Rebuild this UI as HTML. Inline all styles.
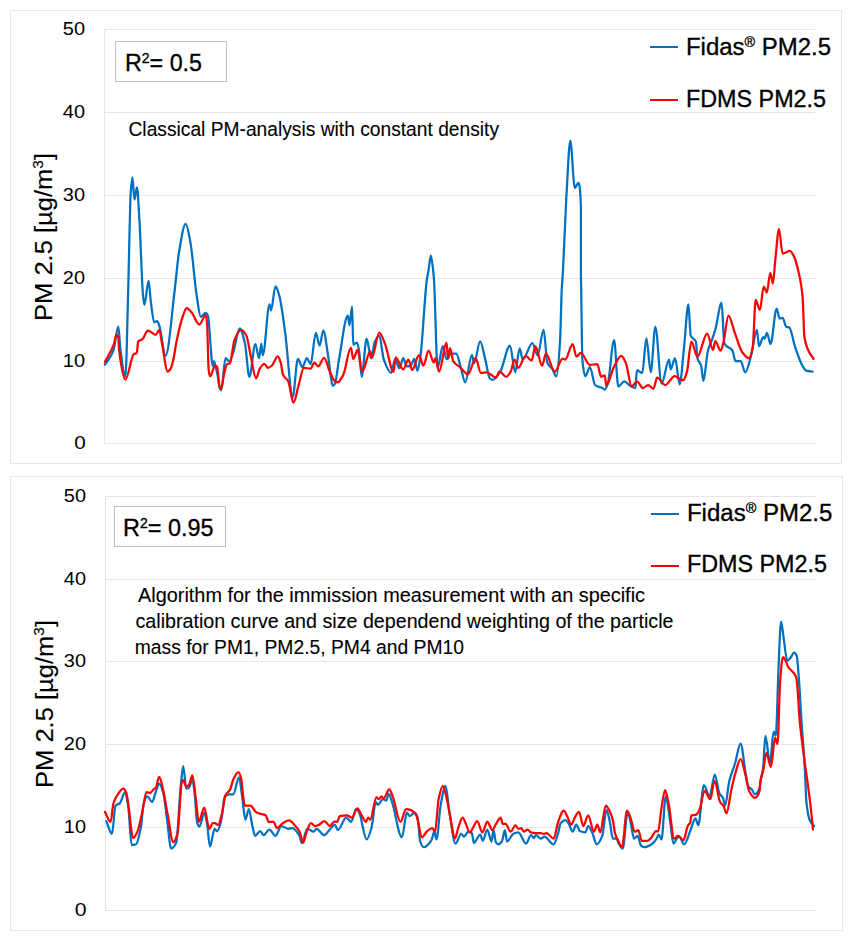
<!DOCTYPE html>
<html><head><meta charset="utf-8"><style>
html,body{margin:0;padding:0;background:#fff;}
body{width:851px;height:937px;overflow:hidden;position:relative;}
svg{position:absolute;left:0;top:0;}
text{font-family:"Liberation Sans", sans-serif;fill:#000;}
</style></head><body>
<svg width="851" height="937" viewBox="0 0 851 937">
<g id="frame">
<rect x="10.5" y="10.5" width="831" height="453" fill="none" stroke="#e6e6e6"/>
<rect x="104" y="29" width="711" height="1" fill="#e6e6e6"/>
<rect x="104" y="112" width="711" height="1" fill="#e6e6e6"/>
<rect x="104" y="195" width="711" height="1" fill="#e6e6e6"/>
<rect x="104" y="278" width="711" height="1" fill="#e6e6e6"/>
<rect x="104" y="361" width="711" height="1" fill="#e6e6e6"/>
<rect x="104" y="443" width="711" height="1" fill="#e6e6e6"/>
<rect x="104" y="29" width="1" height="415" fill="#e6e6e6"/>
<rect x="10.5" y="476.5" width="832" height="454" fill="none" stroke="#e6e6e6"/>
<rect x="105" y="496" width="711" height="1" fill="#e6e6e6"/>
<rect x="105" y="579" width="711" height="1" fill="#e6e6e6"/>
<rect x="105" y="661" width="711" height="1" fill="#e6e6e6"/>
<rect x="105" y="744" width="711" height="1" fill="#e6e6e6"/>
<rect x="105" y="827" width="711" height="1" fill="#e6e6e6"/>
<rect x="105" y="910" width="711" height="1" fill="#e6e6e6"/>
<rect x="105" y="496" width="1" height="415" fill="#e6e6e6"/>
<rect x="115.5" y="41.5" width="111" height="40" fill="#fff" stroke="#bfbfbf"/>
<rect x="114.5" y="506.5" width="111" height="40" fill="#fff" stroke="#bfbfbf"/>
<rect x="650" y="46" width="28" height="2" fill="#0070c0"/>
<rect x="650" y="99" width="28" height="2" fill="#ff0000"/>
<rect x="651" y="513" width="28" height="2" fill="#0070c0"/>
<rect x="651" y="565" width="28" height="2" fill="#ff0000"/>
</g>
<g id="labels">
<text id="yl1_0" x="62.8" y="35.3" font-size="18.5" textLength="22.2" lengthAdjust="spacingAndGlyphs" stroke="#000" stroke-width="0.0001">50</text>
<text id="yl1_1" x="62.8" y="118.3" font-size="18.5" textLength="22.2" lengthAdjust="spacingAndGlyphs" stroke="#000" stroke-width="0.0001">40</text>
<text id="yl1_2" x="62.8" y="201.3" font-size="18.5" textLength="22.2" lengthAdjust="spacingAndGlyphs" stroke="#000" stroke-width="0.0001">30</text>
<text id="yl1_3" x="62.8" y="284.3" font-size="18.5" textLength="22.2" lengthAdjust="spacingAndGlyphs" stroke="#000" stroke-width="0.0001">20</text>
<text id="yl1_4" x="62.8" y="367.3" font-size="18.5" textLength="22.2" lengthAdjust="spacingAndGlyphs" stroke="#000" stroke-width="0.0001">10</text>
<text id="yl1_5" x="74.3" y="449.3" font-size="18.5" textLength="11.5" lengthAdjust="spacingAndGlyphs" stroke="#000" stroke-width="0.0001">0</text>
<text id="yl2_0" x="63.8" y="502" font-size="18.5" textLength="22.2" lengthAdjust="spacingAndGlyphs" stroke="#000" stroke-width="0.0001">50</text>
<text id="yl2_1" x="63.8" y="585" font-size="18.5" textLength="22.2" lengthAdjust="spacingAndGlyphs" stroke="#000" stroke-width="0.0001">40</text>
<text id="yl2_2" x="63.8" y="667" font-size="18.5" textLength="22.2" lengthAdjust="spacingAndGlyphs" stroke="#000" stroke-width="0.0001">30</text>
<text id="yl2_3" x="63.8" y="750" font-size="18.5" textLength="22.2" lengthAdjust="spacingAndGlyphs" stroke="#000" stroke-width="0.0001">20</text>
<text id="yl2_4" x="63.8" y="833" font-size="18.5" textLength="22.2" lengthAdjust="spacingAndGlyphs" stroke="#000" stroke-width="0.0001">10</text>
<text id="yl2_5" x="74.8" y="916" font-size="18.5" textLength="11.8" lengthAdjust="spacingAndGlyphs" stroke="#000" stroke-width="0.0001">0</text>
</g>
<text id="t1" transform="translate(51.5,321) rotate(-90)" font-size="24.7" textLength="168" lengthAdjust="spacingAndGlyphs" stroke="#000" stroke-width="0.15">PM 2.5 [µg/m<tspan font-size="14.82" dy="-8.15">3</tspan><tspan dy="8.15">]</tspan></text>
<text id="t2" transform="translate(52.5,788) rotate(-90)" font-size="24.7" textLength="168" lengthAdjust="spacingAndGlyphs" stroke="#000" stroke-width="0.15">PM 2.5 [µg/m<tspan font-size="14.82" dy="-8.15">3</tspan><tspan dy="8.15">]</tspan></text>
<text id="r2a" x="125" y="71" font-size="24.7" textLength="77" lengthAdjust="spacingAndGlyphs" stroke="#000" stroke-width="0.35">R<tspan font-size="14.82" dy="-8.15">2</tspan><tspan dy="8.15">= 0.5</tspan></text>
<text id="r2b" x="123" y="536" font-size="24.7" textLength="90.5" lengthAdjust="spacingAndGlyphs" stroke="#000" stroke-width="0.35">R<tspan font-size="14.82" dy="-8.15">2</tspan><tspan dy="8.15">= 0.95</tspan></text>
<text id="lg1a" x="686" y="55" font-size="24.7" textLength="145.0" lengthAdjust="spacingAndGlyphs" stroke="#000" stroke-width="0.35">Fidas<tspan font-size="14.82" dy="-8.15">®</tspan><tspan dy="8.15"> PM2.5</tspan></text>
<text id="lg1b" x="686" y="107" font-size="24.7" textLength="140.0" lengthAdjust="spacingAndGlyphs" stroke="#000" stroke-width="0.35">FDMS PM2.5</text>
<text id="lg2a" x="686.9" y="521" font-size="24.7" textLength="145.5" lengthAdjust="spacingAndGlyphs" stroke="#000" stroke-width="0.35">Fidas<tspan font-size="14.82" dy="-8.15">®</tspan><tspan dy="8.15"> PM2.5</tspan></text>
<text id="lg2b" x="686.9" y="572.3" font-size="24.7" textLength="140.1" lengthAdjust="spacingAndGlyphs" stroke="#000" stroke-width="0.35">FDMS PM2.5</text>
<text id="ann1" x="128.5" y="136" font-size="19.3" textLength="370.5" lengthAdjust="spacingAndGlyphs" stroke="#000" stroke-width="0.1">Classical PM-analysis with constant density</text>
<text id="ann2a" x="138" y="602" font-size="19.3" textLength="507" lengthAdjust="spacingAndGlyphs" stroke="#000" stroke-width="0.1">Algorithm for the immission measurement with an specific</text>
<text id="ann2b" x="135.5" y="627.5" font-size="19.3" textLength="538" lengthAdjust="spacingAndGlyphs" stroke="#000" stroke-width="0.1">calibration curve and size dependend weighting of the particle</text>
<text id="ann2c" x="134.7" y="653.5" font-size="19.3" textLength="329.3" lengthAdjust="spacingAndGlyphs" stroke="#000" stroke-width="0.1">mass for PM1, PM2.5, PM4 and PM10</text>
<g id="curves">
<path id="b1" d="M104.9 364.7 C107.8 360.0 110.6 357.9 113.4 350.6 C115.0 346.4 116.7 326.7 118.3 326.7 C119.0 326.7 119.7 343.8 120.4 349.2 C122.1 361.8 123.7 376.7 125.4 376.7 C126.3 376.7 127.3 322.1 128.2 290.0 C129.0 261.1 129.9 205.4 130.7 193.2 C131.3 185.1 131.9 177.4 132.4 177.4 C133.1 177.4 133.8 199.5 134.5 199.5 C135.3 199.5 136.1 187.3 136.9 187.3 C137.8 187.3 138.6 207.7 139.5 221.4 C140.7 240.4 141.8 283.6 143.0 295.0 C143.5 299.6 143.9 304.8 144.4 304.8 C145.8 304.8 147.2 280.9 148.6 280.9 C149.4 280.9 150.1 296.0 150.8 301.3 C151.9 310.1 153.1 322.4 154.3 322.4 C155.2 322.4 156.2 321.0 157.1 321.0 C157.8 321.0 158.5 323.4 159.2 325.3 C161.3 330.8 163.5 355.6 165.6 355.6 C168.6 355.6 171.7 314.5 174.7 290.0 C176.1 278.7 177.6 260.7 179.0 252.4 C181.2 239.2 183.5 223.9 185.7 223.9 C187.2 223.9 188.7 233.4 190.2 241.1 C192.4 252.0 194.5 281.7 196.6 295.0 C198.0 303.9 199.4 316.8 200.8 316.8 C202.5 316.8 204.1 312.8 205.8 312.8 C206.5 312.8 207.2 314.0 207.9 315.4 C209.5 318.6 211.2 366.1 212.8 366.1 C213.2 366.1 213.6 361.2 213.9 361.2 C214.3 361.2 214.6 363.0 215.0 364.1 C215.7 366.5 216.5 369.6 217.2 373.1 C218.0 376.7 218.8 383.2 219.6 385.9 C220.1 387.8 220.7 390.3 221.3 390.3 C222.7 390.3 224.1 358.2 225.5 358.2 C226.7 358.2 227.9 361.4 229.2 361.4 C230.4 361.4 231.7 356.9 232.9 353.7 C235.2 347.8 237.4 328.3 239.7 328.3 C241.4 328.3 243.1 335.9 244.9 343.2 C246.4 349.5 247.9 376.8 249.4 376.8 C251.4 376.8 253.3 344.0 255.3 344.0 C256.6 344.0 257.8 358.2 259.1 358.2 C259.8 358.2 260.6 343.5 261.3 343.5 C261.8 343.5 262.3 355.2 262.8 355.2 C265.1 355.2 267.3 304.4 269.5 304.4 C270.0 304.4 270.5 310.3 271.0 310.3 C272.5 310.3 274.0 286.4 275.5 286.4 C276.8 286.4 278.0 291.2 279.2 295.4 C281.2 302.1 283.2 318.4 285.2 332.8 C287.7 350.7 290.2 397.0 292.7 397.0 C294.4 397.0 296.2 358.9 297.9 358.9 C299.4 358.9 300.9 367.1 302.4 367.1 C303.9 367.1 305.4 358.2 306.9 358.2 C308.1 358.2 309.4 364.1 310.6 364.1 C312.4 364.1 314.1 332.8 315.9 332.8 C317.1 332.8 318.3 345.5 319.6 345.5 C320.8 345.5 322.1 330.5 323.3 330.5 C324.8 330.5 326.3 344.3 327.8 353.7 C328.5 358.2 329.3 365.2 330.0 370.1 C330.9 376.0 331.8 385.8 332.6 385.8 C333.4 385.8 334.2 384.8 335.0 383.6 C336.3 381.5 337.6 366.9 339.0 359.6 C342.0 343.3 344.9 315.6 347.9 315.6 C348.4 315.6 348.9 325.3 349.4 325.3 C350.3 325.3 351.2 306.6 352.1 306.6 C352.5 306.6 352.8 344.7 353.2 344.7 C354.4 344.7 355.6 342.5 356.9 342.5 C357.6 342.5 358.4 346.7 359.1 350.7 C360.0 355.2 360.8 376.8 361.7 376.8 C363.3 376.8 365.0 338.7 366.6 338.7 C368.1 338.7 369.6 358.2 371.1 358.2 C372.3 358.2 373.6 344.3 374.8 341.7 C376.3 338.6 377.8 335.7 379.3 335.7 C380.8 335.7 382.3 355.5 383.8 359.6 C386.3 366.5 388.8 372.8 391.3 372.8 C392.5 372.8 393.7 359.6 395.0 359.6 C396.5 359.6 398.0 368.3 399.5 368.3 C400.7 368.3 402.0 358.2 403.2 358.2 C404.5 358.2 405.7 366.4 406.9 366.4 C408.2 366.4 409.4 366.1 410.7 365.6 C411.9 365.2 413.2 358.9 414.4 358.9 C415.4 358.9 416.4 370.9 417.4 370.9 C418.4 370.9 419.4 363.1 420.4 356.7 C422.5 342.8 424.7 295.2 426.8 280.0 C427.4 275.7 428.0 273.6 428.6 270.0 C429.3 265.6 430.1 255.7 430.8 255.7 C431.6 255.7 432.3 263.7 433.1 270.0 C433.4 272.5 433.7 275.7 434.0 280.0 C435.2 296.7 436.4 367.9 437.6 367.9 C439.3 367.9 441.1 346.2 442.8 346.2 C444.1 346.2 445.3 358.9 446.5 358.9 C447.0 358.9 447.5 358.9 448.0 358.9 C448.7 358.9 449.3 353.7 450.0 353.7 C452.1 353.7 454.1 353.7 456.2 353.7 C457.7 353.7 459.2 362.4 460.7 367.1 C462.2 371.9 463.7 382.4 465.2 382.4 C467.4 382.4 469.7 354.9 471.9 354.9 C472.6 354.9 473.4 363.4 474.1 363.4 C476.1 363.4 478.1 341.4 480.1 341.4 C481.9 341.4 483.6 353.0 485.3 359.6 C486.8 365.3 488.3 377.1 489.8 378.3 C490.8 379.2 491.8 379.8 492.8 379.8 C495.3 379.8 497.8 375.4 500.3 371.6 C503.5 366.6 506.8 345.5 510.0 345.5 C511.7 345.5 513.5 372.3 515.2 372.3 C516.7 372.3 518.2 348.4 519.7 348.4 C520.7 348.4 521.7 359.6 522.7 359.6 C525.9 359.6 529.2 343.2 532.4 343.2 C534.1 343.2 535.9 355.2 537.6 355.2 C539.6 355.2 541.6 329.8 543.6 329.8 C544.9 329.8 546.1 359.7 547.3 362.6 C549.1 366.7 550.8 366.7 552.6 369.4 C553.8 371.3 555.1 376.4 556.3 376.4 C557.5 376.4 558.8 360.5 560.0 341.7 C560.6 332.9 561.2 301.7 561.7 290.0 C562.2 281.4 562.6 277.5 563.0 270.0 C564.1 250.3 565.2 217.8 566.3 198.3 C567.7 175.3 569.0 140.6 570.3 140.6 C571.8 140.6 573.3 188.1 574.9 188.1 C576.0 188.1 577.2 182.9 578.3 182.9 C579.2 182.9 580.0 183.8 580.9 206.8 C580.9 207.4 580.9 266.8 580.9 270.0 C581.0 285.5 581.1 283.9 581.2 290.0 C581.6 316.2 582.0 355.1 582.4 359.6 C583.4 371.0 584.4 376.1 585.4 376.1 C586.9 376.1 588.4 367.1 589.9 367.1 C591.6 367.1 593.4 383.6 595.1 385.0 C596.4 386.1 597.6 386.5 598.8 386.8 C599.6 387.0 600.3 387.1 601.1 387.3 C602.3 387.6 603.6 389.5 604.8 389.5 C605.8 389.5 606.8 386.5 607.8 383.6 C609.9 377.5 612.0 340.2 614.1 340.2 C615.5 340.2 616.9 386.5 618.3 386.5 C620.3 386.5 622.3 381.3 624.2 381.3 C626.2 381.3 628.2 384.7 630.2 385.8 C632.0 386.7 633.7 388.0 635.5 388.0 C636.0 388.0 636.4 370.1 636.9 370.1 C638.7 370.1 640.4 373.1 642.2 373.1 C643.6 373.1 645.0 338.4 646.4 338.4 C647.9 338.4 649.3 372.3 650.8 372.3 C652.3 372.3 653.8 326.8 655.3 326.8 C657.4 326.8 659.5 383.6 661.6 383.6 C664.1 383.6 666.6 359.6 669.1 359.6 C669.6 359.6 670.1 369.4 670.6 369.4 C672.1 369.4 673.6 358.2 675.0 358.2 C676.6 358.2 678.2 384.3 679.7 384.3 C681.1 384.3 682.6 360.6 684.0 347.7 C685.5 334.1 687.0 304.4 688.4 304.4 C689.2 304.4 689.9 334.0 690.7 335.7 C692.4 339.9 694.2 337.5 695.9 341.7 C696.4 342.9 696.9 356.3 697.4 358.2 C698.7 362.8 699.9 361.6 701.1 365.6 C701.9 368.0 702.6 380.9 703.4 380.9 C704.9 380.9 706.4 356.4 707.9 350.7 C709.4 345.0 710.9 343.0 712.4 338.7 C713.3 335.9 714.3 333.2 715.3 329.8 C717.4 322.5 719.5 302.9 721.6 302.9 C722.5 302.9 723.4 341.4 724.3 343.2 C727.0 348.7 729.8 346.3 732.5 350.7 C733.5 352.3 734.5 361.1 735.5 361.1 C737.3 361.1 739.0 361.1 740.7 361.1 C742.2 361.1 743.7 372.3 745.2 372.3 C747.2 372.3 749.2 362.2 751.2 355.2 C753.1 348.5 755.0 329.8 756.9 329.8 C757.6 329.8 758.3 346.2 759.0 346.2 C760.4 346.2 761.8 337.2 763.2 337.2 C763.7 337.2 764.1 338.7 764.6 338.7 C765.4 338.7 766.1 332.8 766.9 332.8 C768.1 332.8 769.4 344.0 770.6 344.0 C772.6 344.0 774.6 308.5 776.6 308.5 C777.6 308.5 778.6 318.6 779.6 318.6 C780.6 318.6 781.6 317.8 782.6 317.8 C783.8 317.8 785.1 326.2 786.3 326.8 C787.3 327.2 788.3 327.1 789.3 327.5 C791.2 328.4 793.2 341.4 795.1 347.1 C797.6 354.3 800.1 362.0 802.6 366.0 C803.8 368.0 805.0 370.2 806.2 370.6 C808.3 371.2 810.4 371.2 812.6 371.5" fill="none" stroke="#0070c0" stroke-width="2.25" stroke-linejoin="round" stroke-linecap="round"/>
<path id="r1" d="M104.9 361.9 C108.0 355.8 111.0 352.5 114.1 343.6 C114.8 341.5 115.5 334.8 116.2 334.8 C116.9 334.8 117.6 335.5 118.3 337.2 C118.6 337.8 118.8 347.2 119.0 349.2 C121.2 367.8 123.3 379.5 125.4 379.5 C128.2 379.5 131.0 356.2 133.8 354.2 C134.9 353.4 135.9 353.8 136.9 352.7 C137.3 352.4 137.7 341.9 138.1 341.5 C139.5 339.8 140.9 340.4 142.3 339.4 C144.2 338.0 146.1 330.6 147.9 330.6 C150.5 330.6 153.1 334.8 155.7 334.8 C156.9 334.8 158.0 330.2 159.2 330.2 C160.2 330.2 161.1 339.0 162.0 343.6 C163.9 352.7 165.8 371.5 167.7 371.5 C168.6 371.5 169.6 370.3 170.5 369.0 C171.4 367.6 172.4 363.7 173.3 359.8 C174.3 355.9 175.2 348.3 176.1 343.6 C178.0 334.2 179.9 325.3 181.8 319.6 C183.4 314.7 185.1 308.0 186.7 308.0 C188.4 308.0 190.0 310.7 191.7 312.6 C194.2 315.5 196.8 324.5 199.4 324.5 C201.5 324.5 203.6 315.1 205.8 315.1 C206.2 315.1 206.7 319.8 207.2 325.3 C207.6 330.7 208.1 364.8 208.6 369.0 C209.0 373.2 209.5 376.3 210.0 376.3 C211.8 376.3 213.5 365.5 215.3 365.5 C216.0 365.5 216.6 366.2 217.2 367.1 C218.0 368.3 218.8 388.6 219.6 388.7 C220.0 388.8 220.5 388.8 221.0 388.8 C222.0 388.8 223.0 378.6 224.0 374.6 C225.0 370.6 226.0 364.6 227.0 364.1 C227.9 363.7 228.9 363.8 229.9 363.4 C231.4 362.7 232.9 343.9 234.4 340.2 C236.7 334.7 238.9 329.8 241.1 329.8 C242.9 329.8 244.6 332.5 246.4 335.7 C247.9 338.5 249.4 350.1 250.9 356.7 C252.6 364.3 254.3 378.3 256.1 378.3 C257.3 378.3 258.6 370.5 259.8 368.6 C261.3 366.3 262.8 363.8 264.3 363.8 C265.6 363.8 266.8 367.9 268.0 367.9 C269.3 367.9 270.5 366.7 271.8 365.6 C273.8 364.0 275.8 356.4 277.8 356.4 C278.7 356.4 279.7 359.6 280.7 362.6 C281.5 364.9 282.2 372.9 283.0 374.6 C284.7 378.5 286.5 377.9 288.2 381.3 C290.0 384.7 291.7 402.7 293.4 402.7 C295.2 402.7 296.9 390.8 298.7 385.0 C300.4 379.2 302.2 367.9 303.9 367.9 C306.1 367.9 308.4 368.6 310.6 368.6 C311.9 368.6 313.1 362.6 314.4 362.6 C315.6 362.6 316.8 366.4 318.1 366.4 C320.1 366.4 322.1 357.9 324.1 357.9 C326.1 357.9 328.0 368.2 330.0 372.3 C331.7 375.8 333.3 380.3 335.0 381.3 C335.8 381.8 336.6 382.4 337.5 382.4 C339.5 382.4 341.5 378.3 343.4 374.6 C345.9 369.9 348.4 347.7 350.9 347.7 C351.7 347.7 352.4 358.9 353.2 358.9 C354.7 358.9 356.1 349.9 357.6 349.9 C359.1 349.9 360.6 371.6 362.1 371.6 C364.9 371.6 367.6 351.4 370.3 351.4 C370.8 351.4 371.3 358.2 371.8 358.2 C374.3 358.2 376.8 332.5 379.3 332.5 C381.3 332.5 383.3 339.7 385.3 344.7 C388.0 351.6 390.8 371.9 393.5 371.9 C394.2 371.9 395.0 357.4 395.7 357.4 C398.2 357.4 400.7 369.4 403.2 369.4 C405.0 369.4 406.7 359.6 408.4 359.6 C409.7 359.6 410.9 370.1 412.2 370.1 C414.4 370.1 416.7 355.2 418.9 355.2 C420.4 355.2 421.9 365.6 423.4 365.6 C425.1 365.6 426.9 350.7 428.6 350.7 C430.4 350.7 432.1 362.6 433.8 362.6 C434.3 362.6 434.8 358.2 435.3 358.2 C436.6 358.2 437.8 371.6 439.1 371.6 C441.6 371.6 444.0 342.5 446.5 342.5 C447.0 342.5 447.5 358.2 448.0 358.2 C448.7 358.2 449.4 348.1 450.1 348.1 C451.1 348.1 452.2 359.5 453.2 361.1 C455.5 364.7 457.7 365.2 459.9 367.1 C462.7 369.5 465.4 374.1 468.2 374.1 C470.6 374.1 473.1 358.2 475.6 358.2 C477.4 358.2 479.1 372.8 480.9 372.8 C482.9 372.8 484.8 372.3 486.8 372.3 C489.8 372.3 492.8 377.6 495.8 377.6 C497.0 377.6 498.3 371.6 499.5 371.6 C501.8 371.6 504.0 376.8 506.3 376.8 C507.8 376.8 509.2 374.2 510.7 371.6 C512.0 369.4 513.2 359.6 514.5 359.6 C515.7 359.6 517.0 367.9 518.2 367.9 C520.7 367.9 523.2 355.9 525.7 355.9 C527.7 355.9 529.7 360.4 531.7 360.4 C532.9 360.4 534.1 346.2 535.4 346.2 C537.6 346.2 539.9 365.6 542.1 365.6 C543.4 365.6 544.6 353.7 545.9 353.7 C548.8 353.7 551.8 371.6 554.8 371.6 C557.4 371.6 560.0 358.5 562.6 358.5 C563.5 358.5 564.3 359.6 565.1 359.6 C567.6 359.6 570.2 344.0 572.7 344.0 C573.9 344.0 575.2 356.7 576.4 356.7 C577.9 356.7 579.4 352.9 580.9 352.9 C583.9 352.9 586.9 364.9 589.9 364.9 C592.4 364.9 594.9 364.1 597.4 364.1 C598.6 364.1 599.8 376.8 601.1 376.8 C602.3 376.8 603.6 375.3 604.8 375.3 C605.3 375.3 605.8 385.8 606.3 385.8 C608.8 385.8 611.3 371.8 613.8 367.1 C616.3 362.4 618.8 355.9 621.3 355.9 C622.8 355.9 624.2 359.4 625.7 362.6 C627.7 366.9 629.7 386.5 631.7 386.5 C633.5 386.5 635.2 381.3 636.9 381.3 C638.9 381.3 640.9 388.0 642.9 388.0 C644.7 388.0 646.4 385.0 648.2 385.0 C649.9 385.0 651.6 388.8 653.4 388.8 C654.6 388.8 655.9 377.6 657.1 377.6 C659.9 377.6 662.6 385.0 665.3 385.0 C668.4 385.0 671.5 376.2 674.7 376.2 C676.4 376.2 678.2 378.3 680.0 379.1 C681.1 379.5 682.1 380.3 683.2 380.3 C684.5 380.3 685.7 375.8 687.0 371.6 C688.4 366.5 689.9 341.7 691.4 341.7 C693.4 341.7 695.4 356.7 697.4 356.7 C700.6 356.7 703.9 333.5 707.1 333.5 C709.1 333.5 711.1 349.9 713.1 349.9 C713.8 349.9 714.6 341.0 715.3 341.0 C717.1 341.0 718.8 350.7 720.6 350.7 C721.6 350.7 722.6 345.5 723.6 341.7 C725.2 335.6 726.8 315.6 728.5 315.6 C730.6 315.6 732.7 327.2 734.8 332.8 C737.3 339.4 739.7 348.9 742.2 352.2 C744.5 355.1 746.7 358.2 749.0 358.2 C750.2 358.2 751.4 353.8 752.7 347.7 C753.7 342.8 754.7 299.9 755.7 299.9 C757.1 299.9 758.5 310.0 759.9 310.0 C761.2 310.0 762.4 286.7 763.7 286.7 C764.8 286.7 765.8 292.5 766.8 292.5 C768.0 292.5 769.1 272.8 770.3 272.8 C771.2 272.8 772.1 283.5 772.9 283.5 C773.7 283.5 774.5 266.4 775.4 259.0 C776.6 247.9 777.8 229.1 779.0 229.1 C780.2 229.1 781.4 253.5 782.6 253.5 C785.0 253.5 787.5 250.8 789.9 250.8 C791.1 250.8 792.3 253.2 793.5 255.4 C795.3 258.6 797.1 265.3 798.9 273.5 C800.2 278.9 801.4 284.2 802.6 297.1 C803.2 303.5 803.8 333.0 804.4 337.0 C805.6 344.9 806.8 346.9 808.0 349.7 C809.8 353.9 811.6 355.7 813.5 358.8" fill="none" stroke="#ff0000" stroke-width="2.25" stroke-linejoin="round" stroke-linecap="round"/>
<path id="b2" d="M106.3 821.1 C108.2 825.3 110.1 833.8 112.0 833.8 C113.2 833.8 114.3 806.7 115.5 805.6 C116.9 804.2 118.3 804.6 119.7 803.5 C121.5 802.0 123.3 792.2 125.1 792.2 C126.1 792.2 127.2 799.7 128.2 806.3 C129.4 813.8 130.6 845.1 131.7 845.1 C133.1 845.1 134.5 844.8 136.0 844.3 C137.6 843.8 139.2 835.8 140.9 827.4 C141.8 822.6 142.8 806.6 143.7 803.5 C144.9 799.6 146.1 796.4 147.2 796.4 C148.9 796.4 150.5 802.0 152.2 802.0 C153.3 802.0 154.5 795.2 155.7 792.2 C156.9 789.1 158.0 783.7 159.2 783.7 C160.6 783.7 162.0 788.5 163.5 793.6 C164.6 797.8 165.8 810.6 167.0 819.0 C168.4 829.0 169.8 848.6 171.2 848.6 C172.9 848.6 174.5 846.4 176.1 842.9 C177.8 839.5 179.4 797.4 181.1 782.3 C181.8 775.8 182.5 766.1 183.2 766.1 C184.2 766.1 185.3 788.6 186.3 788.6 C187.1 788.6 188.0 788.3 188.8 787.9 C190.0 787.4 191.2 779.5 192.4 779.5 C193.1 779.5 193.8 786.8 194.5 792.2 C195.4 799.4 196.4 820.6 197.3 823.2 C198.0 825.2 198.7 826.7 199.4 826.7 C201.1 826.7 202.7 812.6 204.3 812.6 C205.3 812.6 206.2 819.4 207.2 824.6 C208.1 829.8 209.0 846.5 210.0 846.5 C211.5 846.5 213.1 828.8 214.6 828.8 C215.4 828.8 216.3 831.3 217.1 831.3 C218.3 831.3 219.5 827.1 220.6 823.2 C222.1 818.5 223.5 797.7 224.9 796.4 C226.3 795.1 227.7 794.3 229.1 794.3 C230.5 794.3 231.9 794.3 233.3 794.3 C235.2 794.3 237.1 777.4 239.0 777.4 C240.1 777.4 241.3 791.3 242.5 799.2 C243.4 805.5 244.4 819.7 245.3 819.7 C246.5 819.7 247.7 809.1 248.8 809.1 C250.0 809.1 251.2 821.3 252.4 826.0 C253.3 829.8 254.2 835.9 255.2 835.9 C256.8 835.9 258.5 831.0 260.1 831.0 C261.3 831.0 262.5 835.2 263.6 835.2 C265.5 835.2 267.4 829.5 269.3 829.5 C271.4 829.5 273.5 835.9 275.6 835.9 C277.5 835.9 279.4 826.0 281.3 826.0 C283.6 826.0 286.0 828.8 288.3 828.8 C289.7 828.8 291.1 828.1 292.6 828.1 C294.0 828.1 295.4 830.1 296.8 831.7 C297.7 832.7 298.7 833.9 299.6 835.9 C300.3 837.4 301.0 842.9 301.7 842.9 C303.6 842.9 305.5 828.8 307.4 828.8 C309.5 828.8 311.6 831.7 313.7 831.7 C314.6 831.7 315.6 828.8 316.5 828.8 C319.1 828.8 321.7 835.2 324.3 835.2 C325.9 835.2 327.6 831.9 329.2 830.2 C331.1 828.4 333.0 824.6 334.9 824.6 C335.9 824.6 336.8 830.2 337.8 830.2 C340.6 830.2 343.4 817.6 346.2 817.6 C347.9 817.6 349.5 821.8 351.2 821.8 C352.8 821.8 354.4 809.1 356.1 809.1 C357.0 809.1 358.0 810.6 358.9 811.9 C361.5 815.6 364.1 839.4 366.7 839.4 C368.3 839.4 370.0 833.2 371.6 827.4 C373.0 822.5 374.4 802.0 375.8 802.0 C376.5 802.0 377.2 804.9 377.9 804.9 C379.6 804.9 381.2 799.2 382.9 799.2 C384.1 799.2 385.2 800.6 386.4 800.6 C387.1 800.6 387.8 793.6 388.5 793.6 C389.7 793.6 390.9 798.8 392.0 802.0 C395.3 811.2 398.6 837.3 401.9 837.3 C403.6 837.3 405.2 812.6 406.9 812.6 C407.8 812.6 408.7 816.1 409.7 816.1 C411.3 816.1 413.0 812.6 414.6 812.6 C415.5 812.6 416.5 814.4 417.4 816.9 C418.4 819.3 419.3 838.9 420.2 841.5 C421.4 844.8 422.6 847.2 423.8 847.2 C426.4 847.2 428.9 844.1 431.5 840.1 C432.5 838.7 433.4 831.7 434.3 831.7 C435.1 831.7 435.8 839.4 436.5 839.4 C437.9 839.4 439.3 812.3 440.7 804.9 C442.3 796.2 444.0 785.8 445.6 785.8 C446.8 785.8 448.0 803.3 449.2 810.5 C451.3 823.2 453.5 843.6 455.6 843.6 C457.5 843.6 459.3 833.8 461.2 833.8 C462.2 833.8 463.1 836.6 464.0 836.6 C465.4 836.6 466.9 831.7 468.3 831.7 C469.4 831.7 470.6 832.1 471.8 833.1 C472.5 833.6 473.2 842.9 473.9 842.9 C476.0 842.9 478.1 834.5 480.3 834.5 C481.1 834.5 481.9 840.8 482.8 840.8 C484.3 840.8 485.8 829.5 487.3 829.5 C488.7 829.5 490.1 841.5 491.5 841.5 C492.2 841.5 492.9 830.2 493.6 830.2 C494.4 830.2 495.1 841.3 495.8 842.2 C496.7 843.5 497.6 844.3 498.6 844.3 C499.8 844.3 500.9 842.7 502.1 840.8 C503.0 839.3 504.0 830.2 504.9 830.2 C505.6 830.2 506.3 841.5 507.0 841.5 C509.2 841.5 511.3 834.7 513.4 833.8 C515.0 833.0 516.7 832.4 518.3 832.4 C520.9 832.4 523.5 843.6 526.1 843.6 C527.7 843.6 529.4 835.2 531.0 835.2 C532.0 835.2 532.9 838.0 533.8 838.0 C534.5 838.0 535.2 835.2 536.0 835.2 C537.6 835.2 539.2 838.7 540.9 838.7 C542.1 838.7 543.2 836.6 544.4 836.6 C547.5 836.6 550.5 844.3 553.6 844.3 C555.0 844.3 556.4 838.7 557.8 834.5 C558.7 831.7 559.7 824.3 560.6 823.2 C562.2 821.4 563.8 820.2 565.3 820.2 C566.4 820.2 567.4 821.9 568.5 823.2 C569.9 825.0 571.3 831.7 572.7 831.7 C573.9 831.7 575.0 824.6 576.2 824.6 C577.4 824.6 578.6 830.4 579.7 831.0 C581.6 831.8 583.5 832.4 585.4 832.4 C586.3 832.4 587.3 826.0 588.2 826.0 C589.6 826.0 591.0 830.2 592.4 833.1 C593.8 836.0 595.3 844.3 596.7 844.3 C598.5 844.3 600.4 840.6 602.3 835.9 C603.7 832.4 605.1 809.8 606.5 809.8 C607.7 809.8 608.9 817.9 610.1 823.2 C611.0 827.5 611.9 838.7 612.9 838.7 C614.1 838.7 615.2 838.7 616.4 838.7 C617.3 838.7 618.3 842.9 619.2 844.3 C620.4 846.1 621.6 848.6 622.7 848.6 C624.4 848.6 626.0 811.9 627.7 811.9 C628.6 811.9 629.6 818.0 630.5 821.8 C631.7 826.5 632.9 838.7 634.0 838.7 C635.2 838.7 636.4 835.9 637.6 835.9 C638.7 835.9 639.9 844.9 641.1 845.8 C642.3 846.6 643.4 847.2 644.6 847.2 C647.0 847.2 649.3 845.8 651.7 844.3 C653.3 843.3 654.9 841.2 656.6 838.7 C657.3 837.6 658.0 834.5 658.7 834.5 C659.6 834.5 660.6 839.4 661.5 839.4 C662.9 839.4 664.3 796.4 665.8 796.4 C667.2 796.4 668.6 811.8 670.0 820.4 C671.2 827.6 672.3 843.6 673.5 843.6 C674.9 843.6 676.3 838.2 677.7 837.3 C678.2 837.0 678.7 836.6 679.2 836.6 C680.9 836.6 682.5 844.3 684.2 844.3 C686.3 844.3 688.4 835.2 690.5 830.2 C692.2 826.4 693.8 818.3 695.4 818.3 C696.4 818.3 697.3 825.3 698.3 825.3 C700.1 825.3 702.0 785.1 703.9 785.1 C705.8 785.1 707.7 796.4 709.5 796.4 C711.3 796.4 713.0 774.5 714.8 774.5 C716.3 774.5 717.9 790.8 719.4 793.6 C720.6 795.7 721.8 795.6 722.9 797.8 C723.6 799.1 724.4 805.6 725.1 805.6 C726.5 805.6 727.9 786.6 729.3 780.9 C731.2 773.3 733.0 770.1 734.9 764.0 C736.8 757.8 738.7 743.5 740.6 743.5 C742.2 743.5 743.9 763.6 745.5 772.4 C746.4 777.5 747.4 785.2 748.3 786.5 C749.5 788.2 750.7 788.0 751.9 789.4 C752.8 790.4 753.7 794.3 754.7 794.3 C756.3 794.3 758.0 792.1 759.6 787.9 C759.9 787.1 760.2 783.5 760.5 781.6 C761.4 776.4 762.3 774.8 763.1 768.2 C763.9 762.4 764.6 735.8 765.4 735.8 C766.9 735.8 768.4 762.4 769.9 762.4 C771.2 762.4 772.4 731.6 773.7 731.6 C774.4 731.6 775.1 735.8 775.8 735.8 C776.7 735.8 777.6 687.5 778.5 668.7 C779.3 650.5 780.2 621.7 781.1 621.7 C782.0 621.7 782.9 633.7 783.8 639.3 C784.9 646.7 786.1 660.5 787.3 660.5 C788.3 660.5 789.2 659.1 790.2 658.1 C791.6 656.8 793.0 652.5 794.3 652.5 C795.1 652.5 795.9 653.9 796.7 655.8 C797.5 657.7 798.2 670.3 799.0 680.4 C799.8 690.6 800.6 707.9 801.4 720.0 C802.6 738.4 803.8 749.3 804.9 770.5 C805.4 778.7 805.9 796.5 806.3 801.0 C807.5 812.3 808.6 817.9 809.8 820.4 C811.2 823.5 812.6 824.1 814.0 826.0" fill="none" stroke="#0070c0" stroke-width="2.25" stroke-linejoin="round" stroke-linecap="round"/>
<path id="r2" d="M104.9 811.9 C106.8 815.2 108.7 821.8 110.6 821.8 C111.5 821.8 112.5 806.5 113.4 803.5 C115.0 798.2 116.7 795.8 118.3 793.6 C120.0 791.4 121.6 788.6 123.3 788.6 C124.2 788.6 125.1 790.2 126.1 792.2 C126.8 793.6 127.5 799.3 128.2 803.5 C129.8 813.2 131.5 838.0 133.1 838.0 C134.5 838.0 136.0 834.7 137.4 831.7 C139.0 828.1 140.7 819.0 142.3 811.9 C143.7 805.8 145.1 792.2 146.5 792.2 C147.7 792.2 148.9 792.9 150.1 792.9 C151.2 792.9 152.4 790.3 153.6 789.4 C154.3 788.8 155.0 788.7 155.7 787.9 C156.9 786.7 158.0 776.9 159.2 776.9 C160.4 776.9 161.6 783.4 162.7 787.9 C164.4 794.4 166.0 806.3 167.7 814.7 C169.6 824.4 171.4 842.2 173.3 842.2 C174.7 842.2 176.1 838.2 177.6 833.1 C179.0 827.9 180.4 785.6 181.8 782.3 C182.3 781.2 182.7 780.2 183.2 780.2 C184.2 780.2 185.3 786.5 186.3 786.5 C187.1 786.5 188.0 785.9 188.8 785.1 C190.0 784.1 191.2 775.3 192.4 775.3 C193.5 775.3 194.7 790.6 195.9 799.2 C196.8 806.2 197.8 821.8 198.7 821.8 C200.6 821.8 202.5 807.7 204.3 807.7 C206.0 807.7 207.6 828.8 209.3 828.8 C210.5 828.8 211.6 823.2 212.8 823.2 C213.5 823.2 214.3 823.2 215.0 823.2 C216.0 823.2 217.1 825.0 218.1 825.0 C219.4 825.0 220.7 818.3 222.1 813.3 C223.2 808.9 224.4 797.3 225.6 795.0 C227.0 792.3 228.4 792.5 229.8 790.1 C231.0 788.1 232.2 781.9 233.3 779.5 C235.0 776.2 236.6 772.2 238.3 772.2 C239.2 772.2 240.1 774.8 241.1 778.1 C241.8 780.5 242.5 791.2 243.2 796.4 C243.7 799.9 244.1 805.6 244.6 805.6 C246.5 805.6 248.4 805.6 250.3 805.6 C252.4 805.6 254.5 811.7 256.6 812.6 C258.2 813.4 259.9 813.5 261.5 814.0 C262.9 814.5 264.4 814.6 265.8 815.4 C266.7 816.0 267.6 821.8 268.6 821.8 C270.2 821.8 271.9 821.8 273.5 821.8 C274.7 821.8 275.9 828.1 277.0 828.1 C278.9 828.1 280.8 824.3 282.7 823.2 C284.8 821.9 286.9 820.4 289.0 820.4 C291.1 820.4 293.3 823.7 295.4 826.0 C296.8 827.5 298.2 829.0 299.6 831.7 C300.8 833.9 302.0 842.9 303.1 842.9 C304.3 842.9 305.5 834.6 306.7 831.7 C308.1 828.2 309.5 823.2 310.9 823.2 C312.3 823.2 313.7 826.0 315.1 826.0 C316.5 826.0 317.9 825.2 319.3 824.6 C321.0 823.9 322.6 821.1 324.3 821.1 C326.2 821.1 328.0 826.0 329.9 826.0 C331.4 826.0 332.8 821.5 334.2 821.5 C335.2 821.5 336.1 821.8 337.1 821.8 C338.0 821.8 338.9 816.4 339.9 816.1 C342.2 815.6 344.6 815.4 346.9 815.4 C348.6 815.4 350.2 817.6 351.9 817.6 C353.7 817.6 355.6 808.4 357.5 808.4 C358.9 808.4 360.3 813.2 361.7 815.4 C363.1 817.7 364.5 821.8 366.0 821.8 C366.7 821.8 367.4 817.6 368.1 817.6 C368.8 817.6 369.5 819.7 370.2 819.7 C372.3 819.7 374.4 797.1 376.5 797.1 C377.2 797.1 377.9 799.2 378.6 799.2 C379.6 799.2 380.5 796.4 381.5 796.4 C382.2 796.4 382.9 798.5 383.6 798.5 C385.5 798.5 387.3 789.4 389.2 789.4 C390.4 789.4 391.6 793.6 392.7 796.4 C395.3 802.6 397.9 821.8 400.5 821.8 C402.4 821.8 404.3 809.1 406.1 809.1 C407.6 809.1 409.0 809.4 410.4 809.8 C412.3 810.3 414.1 811.9 416.0 814.7 C416.7 815.8 417.4 819.1 418.1 821.8 C419.3 826.2 420.5 837.3 421.7 837.3 C423.5 837.3 425.4 832.4 427.3 831.0 C428.9 829.7 430.6 828.1 432.2 828.1 C433.2 828.1 434.1 831.7 435.1 831.7 C436.2 831.7 437.4 804.8 438.6 799.2 C440.0 792.5 441.4 785.8 442.8 785.8 C443.7 785.8 444.7 790.3 445.6 793.6 C447.3 799.4 449.0 810.9 450.6 819.0 C452.1 825.8 453.5 838.7 454.9 838.7 C456.0 838.7 457.2 830.6 458.4 827.4 C459.8 823.6 461.2 817.6 462.6 817.6 C463.8 817.6 465.0 822.1 466.2 824.6 C467.3 827.1 468.5 832.4 469.7 832.4 C470.9 832.4 472.0 829.2 473.2 827.4 C474.5 825.5 475.8 821.1 477.2 821.1 C478.9 821.1 480.6 832.4 482.4 832.4 C484.0 832.4 485.7 821.5 487.3 821.5 C488.9 821.5 490.6 830.0 492.2 830.0 C493.6 830.0 495.1 825.2 496.5 823.2 C497.9 821.1 499.3 817.6 500.7 817.6 C501.4 817.6 502.1 823.9 502.8 823.9 C503.8 823.9 504.7 823.9 505.6 823.9 C507.3 823.9 508.9 831.7 510.6 831.7 C512.2 831.7 513.9 825.3 515.5 825.3 C516.4 825.3 517.4 828.8 518.3 828.8 C519.3 828.8 520.2 828.1 521.1 828.1 C522.1 828.1 523.0 831.7 524.0 831.7 C525.1 831.7 526.3 829.5 527.5 829.5 C528.7 829.5 529.8 832.0 531.0 832.4 C532.4 832.8 533.8 833.1 535.2 833.1 C537.1 833.1 539.0 833.1 540.9 833.1 C541.8 833.1 542.8 833.8 543.7 833.8 C544.6 833.8 545.6 833.1 546.5 833.1 C548.9 833.1 551.2 838.7 553.6 838.7 C555.0 838.7 556.4 827.7 557.8 823.2 C558.5 820.9 559.3 818.6 560.0 816.9 C560.9 814.6 561.8 812.0 562.7 811.2 C563.1 810.9 563.5 810.5 563.9 810.5 C565.0 810.5 566.0 814.2 567.1 816.1 C568.5 818.8 569.9 824.6 571.3 824.6 C572.5 824.6 573.6 819.4 574.8 817.6 C576.2 815.3 577.6 811.9 579.0 811.9 C580.4 811.9 581.9 826.0 583.3 826.0 C584.9 826.0 586.6 815.4 588.2 815.4 C590.1 815.4 592.0 831.7 593.8 831.7 C595.0 831.7 596.2 824.6 597.4 824.6 C598.3 824.6 599.2 832.4 600.2 832.4 C602.1 832.4 603.9 805.6 605.8 805.6 C607.0 805.6 608.2 808.3 609.4 810.5 C610.5 812.7 611.7 815.7 612.9 820.4 C613.6 823.2 614.3 830.5 615.0 833.1 C615.9 836.5 616.9 838.2 617.8 840.1 C619.2 843.0 620.6 847.2 622.0 847.2 C623.7 847.2 625.3 810.5 627.0 810.5 C628.2 810.5 629.3 814.6 630.5 817.6 C631.9 821.1 633.3 831.7 634.7 831.7 C635.9 831.7 637.1 830.2 638.3 830.2 C639.4 830.2 640.6 840.8 641.8 840.8 C643.7 840.8 645.5 840.8 647.4 840.8 C648.8 840.8 650.2 838.8 651.7 837.3 C653.1 835.8 654.5 831.0 655.9 831.0 C656.6 831.0 657.3 831.7 658.0 831.7 C659.2 831.7 660.4 814.5 661.5 807.7 C662.7 800.9 663.9 790.1 665.1 790.1 C666.2 790.1 667.4 798.0 668.6 803.5 C670.5 812.2 672.3 838.7 674.2 838.7 C675.4 838.7 676.6 835.9 677.8 835.9 C679.7 835.9 681.6 840.1 683.5 840.1 C684.9 840.1 686.3 828.9 687.7 826.0 C688.6 824.1 689.6 824.6 690.5 821.8 C690.7 821.1 691.0 815.5 691.2 815.4 C692.9 814.8 694.5 815.2 696.2 814.7 C697.3 814.4 698.5 811.7 699.7 809.1 C701.3 805.5 703.0 790.8 704.6 790.8 C706.5 790.8 708.4 799.2 710.3 799.2 C711.7 799.2 713.1 780.9 714.5 780.9 C716.4 780.9 718.2 798.8 720.1 802.0 C721.3 804.1 722.5 804.3 723.6 806.3 C724.6 807.8 725.5 813.3 726.5 813.3 C728.1 813.3 729.8 796.6 731.4 789.4 C732.8 783.2 734.2 777.0 735.6 772.4 C737.3 767.1 738.9 759.0 740.6 759.0 C742.2 759.0 743.9 769.0 745.5 775.3 C746.7 779.7 747.9 788.4 749.0 790.8 C750.9 794.6 752.8 797.8 754.7 797.8 C756.3 797.8 758.0 795.8 759.6 790.8 C759.9 789.8 760.2 782.1 760.5 780.2 C761.4 775.2 762.3 774.7 763.1 771.0 C764.2 766.4 765.3 752.9 766.4 752.9 C767.9 752.9 769.4 766.9 770.9 766.9 C772.3 766.9 773.7 737.9 775.1 737.9 C775.9 737.9 776.7 744.1 777.5 744.1 C778.4 744.1 779.3 692.1 780.2 680.4 C781.1 669.1 782.0 657.0 782.9 657.0 C783.8 657.0 784.7 659.0 785.5 660.5 C786.5 662.2 787.5 666.1 788.5 667.5 C789.4 668.9 790.4 669.3 791.4 670.5 C793.0 672.2 794.5 672.7 796.1 676.9 C796.7 678.5 797.3 685.6 797.8 692.2 C798.4 698.7 799.0 713.2 799.6 720.0 C800.5 729.9 801.3 735.7 802.2 742.7 C804.9 765.7 807.7 781.1 810.5 805.2 C811.3 812.4 812.2 821.4 813.0 829.5" fill="none" stroke="#ff0000" stroke-width="2.25" stroke-linejoin="round" stroke-linecap="round"/>
</g>
</svg></body></html>
